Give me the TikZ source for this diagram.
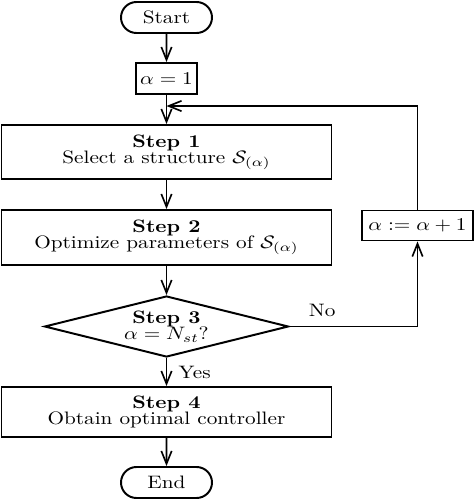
\documentclass[tikz,border=0pt]{standalone}
\usepackage{graphicx}
\usetikzlibrary{shapes.geometric,shapes.misc,arrows.meta}
\newcommand\sq[1]{\scalebox{1.025}[0.87]{#1}}
\newcommand\twol[2]{\scalebox{1.025}[0.87]{\vbox{\baselineskip=8.9pt\lineskiplimit=-20pt\lineskip=0pt\halign{\hfil##\hfil\cr#1\cr#2\cr}}}}
\tikzset{
  box/.style={draw, line width=0.95pt, rectangle, inner sep=0pt},
  term/.style={draw, line width=0.95pt, rounded rectangle, inner sep=0pt,
    minimum width={91*0.483pt}, minimum height={31*0.483pt}},
  dec/.style={draw, line width=0.95pt, diamond, aspect=4, inner sep=0pt},
  conn/.style={line width=0.8pt, -{Straight Barb[length=6.2pt,width=5pt]}},
  lbl/.style={inner sep=0pt},
}
\begin{document}
\begin{tikzpicture}[x=0.483pt, y=-0.483pt]
\useasboundingbox (0,0) rectangle (474,499);
\node[term] (start) at (166.5,17.5) {\sq{Start}};
\node[box, minimum width={61*0.483pt}, minimum height={31*0.483pt}] (a1) at (166.5,78.5) {\sq{$\alpha=1$}};
\coordinate (merge) at (166.5,106);
\node[box, minimum width={330*0.483pt}, minimum height={54*0.483pt}] (s1) at (166.5,152)
  {\twol{\textbf{Step 1}}{Select a structure $\mathcal{S}_{(\alpha)}$}};
\node[box, minimum width={330*0.483pt}, minimum height={55*0.483pt}] (s2) at (166.5,237.5)
  {\twol{\textbf{Step 2}}{Optimize parameters of $\mathcal{S}_{(\alpha)}$}};
\node[box, minimum width={111*0.483pt}, minimum height={30*0.483pt}] (inc) at (417.5,225.5)
  {\sq{$\alpha:=\alpha+1$}};
\node[dec, minimum width={244*0.483pt}, minimum height={61*0.483pt}] (s3) at (166.5,326.5)
  {\twol{\textbf{Step 3}}{$\alpha=N_{st}?$}};
\node[box, minimum width={330*0.483pt}, minimum height={50*0.483pt}] (s4) at (166.5,412)
  {\twol{\textbf{Step 4}}{Obtain optimal controller}};
\node[term] (end) at (166.5,482.5) {\sq{End}};

\draw[conn] (start) -- (a1);
\draw[conn] (a1) -- (s1);
\draw[conn] (s1) -- (s2);
\draw[conn] (s2) -- (s3);
\draw[conn] (s3) -- node[lbl, anchor=west, xshift=5.5pt] {\sq{Yes}} (s4);
\draw[conn] (s4) -- (end);
\draw[conn] (s3.east) -| node[lbl, pos=0.128, anchor=south, yshift=4.3pt] {\sq{No}} (inc.south);
\draw[conn] (inc.north) |- (merge);
\end{tikzpicture}
\end{document}
